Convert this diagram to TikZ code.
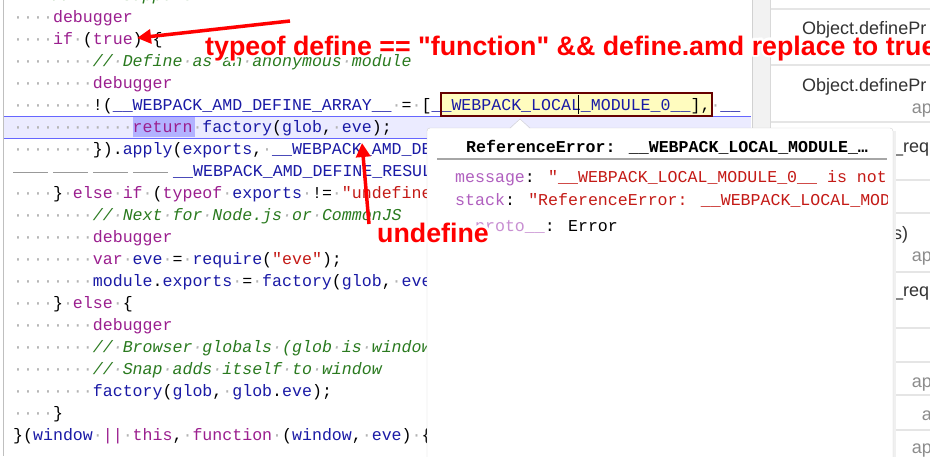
\documentclass[tikz,border=0pt]{standalone}
\usepackage{fontspec}
\setmainfont{Liberation Sans}
\newfontfamily\annf{Liberation Sans}
\newfontfamily\monof{Liberation Mono}
\usetikzlibrary{arrows.meta}
\definecolor{kw}{HTML}{9B1F8F}
\definecolor{idc}{HTML}{1A1AA6}
\definecolor{cmc}{HTML}{2A7A1F}
\definecolor{stc}{HTML}{C41A16}
\definecolor{dotc}{HTML}{B4B4B4}
\definecolor{msgc}{HTML}{B05FBF}
\newcommand\K[1]{{\color{kw}#1}}
\newcommand\I[1]{{\color{idc}#1}}
\newcommand\C[1]{{\color{cmc}\itshape #1}}
\newcommand\Sq[1]{{\color{stc}#1}}
\newcommand\D[1]{{\color{dotc}#1}}
\newcommand\codefont{\fontsize{16.6}{20}\selectfont\monof}
\tikzset{
  cl/.style={anchor=base west, inner sep=0pt, font=\codefont},
  ann/.style={anchor=base west, inner sep=0pt, font=\fontsize{26.8}{30}\selectfont\annf\bfseries},
  rp/.style={anchor=base west, inner sep=0pt, font=\fontsize{18}{22}\selectfont, text=black!80},
  rpg/.style={anchor=base east, inner sep=0pt, font=\fontsize{18}{22}\selectfont, text=black!45},
  sep/.style={draw=black!10, line width=2pt},
  redarrow/.style={draw=red, line width=3.5pt, -{Triangle[length=14pt,width=14pt]}},
}
\newcommand\outl[3]{%
  \foreach \a in {0,30,...,330} \node[ann,text=white,shift={(\a:2.4)}] at (#1) {#3};
  \node[ann,text=red] (#2) at (#1) {#3};}
\begin{document}
\begin{tikzpicture}[x=1pt,y=-1pt]
\useasboundingbox (0,0) rectangle (930,456);
\fill[white] (0,0) rectangle (930,456);
% right panel
\fill[black!5] (752,0) rectangle (770,456);
\draw[black!18] (752,0) -- (752,456);
\draw[black!15] (770,0) -- (770,456);
\foreach \yy in {9,65,122,180,213,272,328,362,395,430} \draw[sep] (771,\yy) -- (930,\yy);
\node[rp] (r1) at (802,34) {Object.definePr};
\node[rp] (r2) at (802,91) {Object.definePr};
\node[rpg] (r3) at (932,113) {ap};
\node[rp] (r4) at (893,152) {\_requ};
\node[rp] (r5) at (893,239) {s)};
\node[rpg] (r6) at (932,261) {ap};
\node[rp] (r7) at (893,296) {\_requ};
\node[rpg] (r8) at (932,387) {ap};
\node[rpg] (r9) at (932,420) {a};
\node[rpg] (r10) at (932,453) {ap};
% code panel
\draw[black!25, line width=1pt] (3,0) -- (3,456);
\begin{scope}
\clip (4,0) rectangle (751,456);
\fill[blue!8] (4,116) rectangle (751,138);
\draw[blue!60] (4,116) -- (751,116);
\draw[blue!60] (4,138) -- (751,138);
\fill[blue!30] (133,117) rectangle (195,137);
\fill[yellow!25] (441,93) rectangle (712,116);
\node[cl] (l0) at (13,0) {\D{····}\C{//\D{·}AMD\D{·}support}};
\node[cl] (l1) at (13,22) {\D{····}\K{debugger}};
\node[cl] (l2) at (13,44) {\D{····}\K{if}\D{·}(\K{true})\D{·}\{};
\node[cl] (l3) at (13,66) {\D{········}\C{//\D{·}Define\D{·}as\D{·}an\D{·}anonymous\D{·}module}};
\node[cl] (l4) at (13,88) {\D{········}\K{debugger}};
\node[cl] (l5) at (13,110) {\D{········}!(\I{\_\_WEBPACK\_AMD\_DEFINE\_ARRAY\_\_}\D{·}=\D{·}[\I{\_\_WEBPACK\_LOCAL\_MODULE\_0\_\_}],\D{·}\I{\_\_}};
\node[cl] (l6) at (13,132) {\D{············}\K{return}\D{·}\I{factory}(\I{glob},\D{·}\I{eve});};
\node[cl] (l7) at (13,154) {\D{········}\}).\I{apply}(\I{exports},\D{·}\I{\_\_WEBPACK\_AMD\_DEFINE\_ARRAY\_\_}),};
\node[cl] (l8) at (173,176) {\I{\_\_WEBPACK\_AMD\_DEFINE\_RESULT\_\_}};
\foreach \xx in {13,53,93,133} \draw[black!40, line width=1pt] (\xx,172) -- (\xx+35,172);
\node[cl] (l9) at (13,198) {\D{····}\}\D{·}\K{else}\D{·}\K{if}\D{·}(\K{typeof}\D{·}\I{exports}\D{·}!=\D{·}\Sq{"undefined"})};
\node[cl] (l10) at (13,220) {\D{········}\C{//\D{·}Next\D{·}for\D{·}Node.js\D{·}or\D{·}CommonJS}};
\node[cl] (l11) at (13,242) {\D{········}\K{debugger}};
\node[cl] (l12) at (13,264) {\D{········}\K{var}\D{·}\I{eve}\D{·}=\D{·}\I{require}(\Sq{"eve"});};
\node[cl] (l13) at (13,286) {\D{········}\I{module}.\I{exports}\D{·}=\D{·}\I{factory}(\I{glob},\D{·}\I{eve});};
\node[cl] (l14) at (13,308) {\D{····}\}\D{·}\K{else}\D{·}\{};
\node[cl] (l15) at (13,330) {\D{········}\K{debugger}};
\node[cl] (l16) at (13,352) {\D{········}\C{//\D{·}Browser\D{·}globals\D{·}(glob\D{·}is\D{·}window)}};
\node[cl] (l17) at (13,374) {\D{········}\C{//\D{·}Snap\D{·}adds\D{·}itself\D{·}to\D{·}window}};
\node[cl] (l18) at (13,396) {\D{········}\I{factory}(\I{glob},\D{·}\I{glob}.\I{eve});};
\node[cl] (l19) at (13,418) {\D{····}\}};
\node[cl] (l20) at (13,440) {\}(\I{window}\D{·}\K{||}\D{·}\K{this},\D{·}\K{function}\D{·}(\I{window},\D{·}\I{eve})\D{·}\{};
\draw[black!60!red, line width=1.5pt] (441,93) rectangle (712,116);
\draw[black, line width=1pt] (578,95) -- (578,114);
\end{scope}
% tooltip
\fill[black!6] (429,131) rectangle (896,470);
\draw[black!18, fill=white, rounded corners=3] (427,128) rectangle (893,470);
\fill[white] (510,129) -- (520,119) -- (530,129) -- cycle;
\draw[black!18] (510,128) -- (520,119) -- (530,128);
\node[cl, font=\codefont\bfseries] (tt) at (466,152) {ReferenceError: \_\_WEBPACK\_LOCAL\_MODULE\_…};
\draw[black!35, line width=2pt] (437,159) -- (887,159);
\begin{scope}
\clip (430,160) rectangle (887,460);
\node[cl] (m1) at (455,182) {{\color{msgc}message}: {\color{stc}"\_\_WEBPACK\_LOCAL\_MODULE\_0\_\_ is not defined"}};
\node[cl] (m2) at (455,205) {{\color{msgc}stack}: {\color{stc}"ReferenceError: \_\_WEBPACK\_LOCAL\_MODULE\_0\_\_"}};
\node[cl] (m3) at (455,231) {{\color{msgc!70}\_\_proto\_\_}: Error};
\end{scope}
% annotations
\coordinate (a1s) at (290,21);
\coordinate (a1e) at (137,38);
\coordinate (a2s) at (369,224);
\coordinate (a2e) at (362,143);
\draw[redarrow] (a1s) -- (a1e);
\draw[redarrow] (a2s) -- (a2e);
\outl{205,55}{t1}{typeof define == "function" \&\& define.amd replace to true}
\outl{377,242}{t2}{undefine}
\end{tikzpicture}
\end{document}
